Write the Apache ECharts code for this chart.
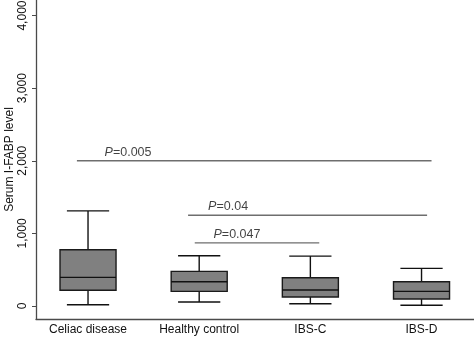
<!DOCTYPE html>
<html><head><meta charset="utf-8">
<script src="https://cdn.jsdelivr.net/npm/echarts@6/dist/echarts.min.js"></script>
<style>html,body{margin:0;padding:0;background:#fff}#c{width:474px;height:337px}</style>
</head><body><div id="c"></div>
<script>
var categories = ['Celiac disease', 'Healthy control', 'IBS-C', 'IBS-D'];
// [low, Q1, median, Q3, high]
var boxLow = [18, 55, 32, 10];
var boxQ1 = [216, 202, 124, 96];
var boxMedian = [394, 334, 220, 202];
var boxQ3 = [774, 477, 389, 334];
var boxHigh = [1310, 692, 687, 518];
var yTicks = [0, 1000, 2000, 3000, 4000];
// significance brackets: [xStart, xEnd, y]
var sigLabels = ['0.005', '0.04', '0.047'];
var sigStart = [-0.10, 0.90, 0.96];
var sigEnd = [3.09, 3.05, 2.08];
var sigY = [2000, 1250, 868];
var sigTextX = [0.36, 1.26, 1.34];
var sigTextY = [2110, 1367, 987];

var boxData = categories.map(function (c, i) {
  return [i, boxLow[i], boxQ1[i], boxMedian[i], boxQ3[i], boxHigh[i]];
});

var FONT = '"Liberation Sans", Arial, Helvetica, sans-serif';

function renderBox(params, api) {
  var x = api.value(0);
  var unit = api.size([1, 0])[0];
  var hw = unit * 0.252, cw = unit * 0.19;
  var pLow = api.coord([x, api.value(1)]);
  var pQ1 = api.coord([x, api.value(2)]);
  var pMed = api.coord([x, api.value(3)]);
  var pQ3 = api.coord([x, api.value(4)]);
  var pHigh = api.coord([x, api.value(5)]);
  var cx = pMed[0];
  var ls = { stroke: '#111', lineWidth: 1.4 };
  return {
    type: 'group',
    children: [
      { type: 'line', shape: { x1: cx, y1: pHigh[1], x2: cx, y2: pQ3[1] }, style: ls },
      { type: 'line', shape: { x1: cx, y1: pQ1[1], x2: cx, y2: pLow[1] }, style: ls },
      { type: 'line', shape: { x1: cx - cw, y1: pHigh[1], x2: cx + cw, y2: pHigh[1] }, style: ls },
      { type: 'line', shape: { x1: cx - cw, y1: pLow[1], x2: cx + cw, y2: pLow[1] }, style: ls },
      { type: 'rect', shape: { x: cx - hw, y: pQ3[1], width: 2 * hw, height: pQ1[1] - pQ3[1] },
        style: { fill: '#808080', stroke: '#1a1a1a', lineWidth: 1.4 } },
      { type: 'line', shape: { x1: cx - hw, y1: pMed[1], x2: cx + hw, y2: pMed[1] }, style: ls }
    ]
  };
}

var series = [{
  type: 'custom',
  renderItem: renderBox,
  data: boxData,
  encode: { x: 0, y: [1, 2, 3, 4, 5] },
  silent: true,
  z: 3
}];

sigLabels.forEach(function (lab, i) {
  series.push({
    type: 'line',
    data: [[sigStart[i], sigY[i]], [sigEnd[i], sigY[i]]],
    symbol: 'none',
    lineStyle: { color: '#6e6e6e', width: 1.3 },
    silent: true,
    z: 2
  });
  series.push({
    type: 'scatter',
    data: [[sigTextX[i], sigTextY[i]]],
    symbolSize: 0,
    silent: true,
    label: {
      show: true,
      position: 'inside',
      formatter: '{i|P}{n|=' + lab + '}',
      rich: {
        i: { fontStyle: 'italic', fontFamily: FONT, fontSize: 12.5, color: '#111' },
        n: { fontFamily: FONT, fontSize: 12.5, color: '#111' }
      }
    }
  });
});

var chart = echarts.init(document.getElementById('c'), null, { renderer: 'canvas' });
chart.setOption({
  animation: false,
  backgroundColor: '#fff',
  grid: { left: 36, right: 0, top: 0, bottom: 18, containLabel: false, outerBoundsMode: 'none' },
  xAxis: {
    type: 'value',
    min: -0.468,
    max: 3.472,
    splitLine: { show: false },
    axisLine: { show: true, onZero: false, lineStyle: { color: '#4a4a4a', width: 1.3 } },
    axisTick: { show: false },
    axisLabel: {
      customValues: [0, 1, 2, 3],
      formatter: function (v) { return categories[Math.round(v)] || ''; },
      fontFamily: FONT, fontSize: 12, color: '#111', margin: 5
    }
  },
  yAxis: {
    type: 'value',
    min: -179,
    max: 4214,
    name: 'Serum I-FABP level',
    nameLocation: 'middle',
    nameGap: 20,
    nameMoveOverlap: false,
    nameTextStyle: { fontFamily: FONT, fontSize: 12, color: '#111' },
    splitLine: { show: false },
    axisLine: { show: true, onZero: false, lineStyle: { color: '#4a4a4a', width: 1.3 } },
    axisTick: { show: true, customValues: yTicks, length: 4, lineStyle: { color: '#4a4a4a' } },
    axisLabel: {
      customValues: yTicks,
      rotate: 90,
      margin: 7,
      fontFamily: FONT, fontSize: 12, color: '#111',
      formatter: function (v) { return v.toLocaleString('en-US'); }
    }
  },
  series: series
});
</script></body></html>
